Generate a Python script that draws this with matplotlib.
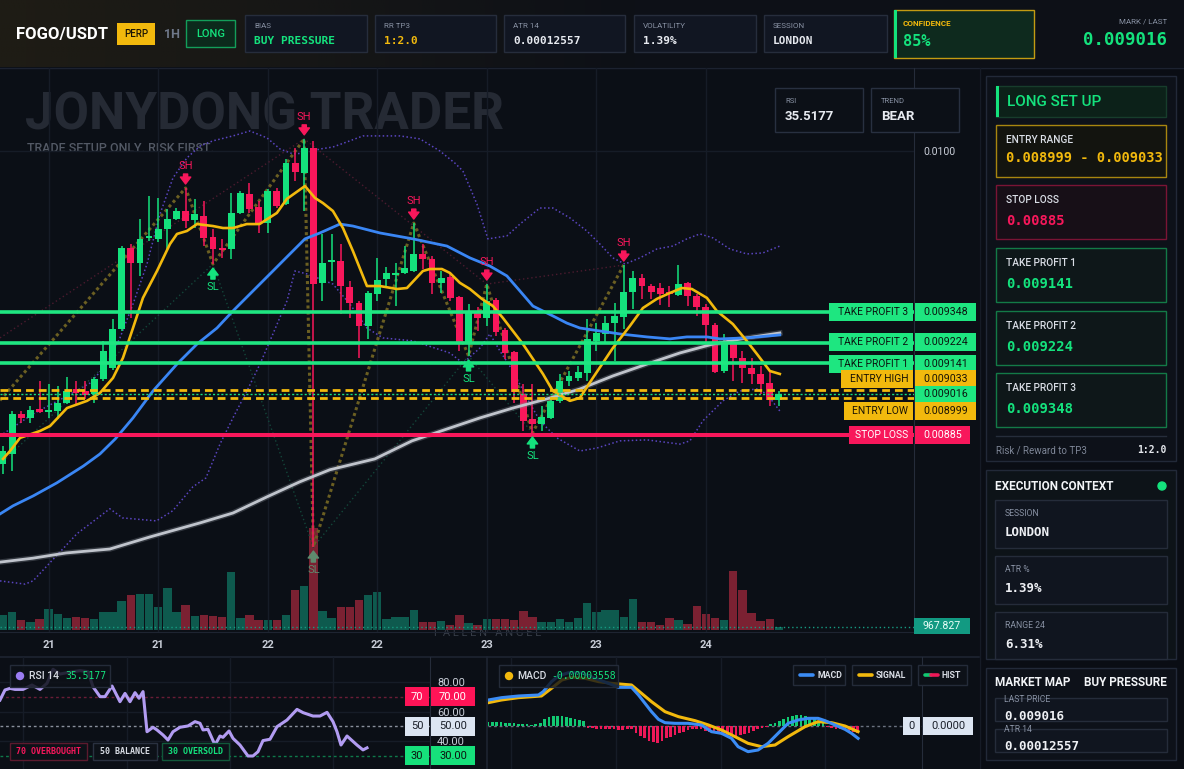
import numpy as np
import matplotlib
matplotlib.use("Agg")
import matplotlib.pyplot as plt
from matplotlib.patches import Rectangle, Circle
from matplotlib.colors import to_rgba, to_rgb

plt.rcParams['font.family'] = ['Roboto', 'DejaVu Sans']
MONO = 'DejaVu Sans Mono'

W, H = 1184, 769
PT = 0.72  # one pixel in points at dpi 100

# ---------------- data ----------------
# hourly candles, prices in 1e-6 USDT
opens = [8732, 8773, 8935, 8919, 8955, 8943, 8947, 8979, 9036, 9028,
         9016, 9077, 9121, 9279, 9607, 9546, 9648, 9644, 9684, 9725,
         9757, 9721, 9737, 9652, 9605, 9603, 9749, 9826, 9773, 9708,
         9838, 9785, 9951, 9911, 10012, 9466, 9550, 9555, 9449, 9385,
         9291, 9421, 9482, 9498, 9506, 9514, 9583, 9563, 9466, 9490,
         9409, 9218, 9344, 9324, 9397, 9275, 9186, 9016, 8915, 8894,
         8919, 8988, 9068, 9081, 9101, 9231, 9259, 9303, 9328, 9429,
         9486, 9453, 9445, 9425, 9417, 9466, 9413, 9368, 9295, 9109,
         9218, 9162, 9121, 9097, 9060, 8992]
highs = [8805, 8947, 8947, 8967, 9068, 9056, 9048, 9085, 9068, 9068,
         9085, 9231, 9320, 9615, 9623, 9725, 9818, 9810, 9765, 9769,
         9850, 9806, 9798, 9684, 9644, 9830, 9838, 9870, 9798, 9846,
         9850, 9968, 10012, 10049, 10040, 9664, 9664, 9623, 9474, 9393,
         9433, 9567, 9530, 9546, 9615, 9708, 9623, 9575, 9514, 9506,
         9413, 9380, 9368, 9461, 9405, 9283, 9190, 9056, 9056, 8967,
         9000, 9097, 9109, 9129, 9320, 9303, 9332, 9385, 9538, 9514,
         9502, 9461, 9466, 9453, 9538, 9470, 9421, 9380, 9303, 9259,
         9231, 9190, 9162, 9129, 9109, 9028]
lows = [8692, 8704, 8898, 8898, 8939, 8919, 8915, 8975, 8975, 8996,
        8979, 9070, 9115, 9271, 9324, 9494, 9636, 9632, 9603, 9721,
        9688, 9688, 9615, 9542, 9567, 9563, 9745, 9749, 9668, 9668,
        9769, 9780, 9878, 9757, 8396, 9393, 9474, 9340, 9324, 9162,
        9239, 9393, 9453, 9372, 9502, 9510, 9522, 9421, 9425, 9393,
        9190, 9170, 9271, 9291, 9251, 9158, 8979, 8866, 8858, 8866,
        8915, 8979, 9048, 9068, 9068, 9190, 9222, 9150, 9279, 9360,
        9401, 9401, 9376, 9368, 9413, 9372, 9332, 9210, 9101, 9101,
        9068, 9060, 9056, 9016, 8967, 8967]
closes = [8785, 8935, 8919, 8951, 8943, 8951, 8979, 9028, 9020, 9012,
          9077, 9190, 9279, 9607, 9546, 9644, 9652, 9684, 9725, 9757,
          9717, 9745, 9648, 9603, 9600, 9749, 9830, 9765, 9708, 9838,
          9777, 9951, 9915, 10012, 9461, 9546, 9559, 9453, 9385, 9291,
          9425, 9478, 9506, 9506, 9526, 9583, 9563, 9466, 9486, 9405,
          9222, 9352, 9324, 9393, 9267, 9182, 9024, 8907, 8894, 8923,
          8988, 9068, 9089, 9105, 9239, 9263, 9303, 9332, 9429, 9486,
          9453, 9429, 9421, 9421, 9461, 9413, 9368, 9295, 9105, 9222,
          9162, 9121, 9097, 9056, 8992, 9016]
volume = [5400, 6370, 3600, 2990, 3960, 7560, 5760, 4210, 4680, 4210,
          3960, 6480, 6480, 10440, 12600, 12960, 12960, 8280, 15120, 6480,
          9000, 5040, 5400, 5040, 4680, 20880, 4320, 5400, 3600, 3600,
          3600, 5400, 14400, 15840, 36720, 6840, 4320, 8280, 8280, 10800,
          12600, 13680, 3960, 4680, 4680, 7200, 2880, 2880, 3240, 1800,
          5400, 2520, 1800, 3960, 3960, 3960, 3600, 6840, 4680, 2880,
          2880, 3960, 2880, 4320, 9720, 6480, 7200, 7200, 4680, 11160,
          2880, 2880, 1800, 4320, 3600, 2160, 8640, 5760, 4320, 3600,
          21240, 14400, 6120, 3240, 3960, 967.827]

day_pos = [5, 17, 29, 41, 53, 65, 77]
day_labels = ['21', '21', '22', '22', '23', '23', '24']

# moving averages / bands (bar index, price 1e-6)
ema_fast_x = [0, 0.77, 1.86, 4.05, 5.15, 7.01, 9.2, 10.62, 12.05, 13.14, 14.24, 15.33, 16.87,
              18.29, 19.06, 20.15, 21.25, 23.0, 24.1, 25.2, 26.7, 28.1, 30.0, 31.1, 33.08,
              34.17, 35.05, 36.14, 37.24, 38.33, 39.87, 41.29, 43.16, 44.25, 46.0, 46.77,
              48.08, 48.96, 50.05, 51.15, 52.46, 53.67, 54.76, 55.86, 56.96, 58.05, 59.15,
              60.24, 62.1, 63.2, 64.62, 66.81, 68.67, 70.1, 71.63, 73.06, 74.37, 75.47,
              77.11, 78.2, 79.96, 81.49, 82.59, 84.01, 85.1]
ema_fast = [8753, 8785, 8838, 8866, 8886, 8959, 8988, 9020, 9081, 9162, 9283, 9405, 9514,
            9623, 9664, 9676, 9704, 9696, 9688, 9688, 9704, 9704, 9749, 9806, 9858,
            9810, 9789, 9757, 9688, 9595, 9453, 9453, 9441, 9445, 9514, 9522,
            9522, 9506, 9466, 9441, 9401, 9372, 9324, 9271, 9218, 9158, 9097,
            9028, 8988, 9000, 9081, 9202, 9291, 9364, 9401, 9425, 9445, 9441,
            9405, 9352, 9299, 9230, 9178, 9109, 9097]
ema_mid_x = [-0.33, 1.1, 3.3, 5.9, 8.8, 10.62, 12.3, 14.24, 16.43, 19.06, 21.25, 23.44,
             25.19, 27.38, 29.57, 31.43, 33.08, 34.72, 36.91, 38.33, 41.29, 44.9, 48.63,
             51.15, 53.34, 55.2, 56.63, 58.05, 60.24, 61.77, 63.2, 65.39, 67.58, 70.54,
             73.06, 74.92, 77.11, 78.53, 81.49, 85.1]
ema_mid = [8530, 8563, 8603, 8656, 8724, 8773, 8834, 8919, 9028, 9137, 9218, 9283,
           9352, 9433, 9514, 9583, 9644, 9668, 9704, 9696, 9668, 9644, 9615,
           9567, 9534, 9494, 9433, 9372, 9332, 9303, 9283, 9271, 9259, 9247,
           9239, 9247, 9247, 9239, 9243, 9255]
ema_slow_x = [-0.33, 3.3, 6.9, 11.7, 16.1, 21.6, 25.2, 28.9, 32.5, 35.8, 40.74, 44.8,
              48.63, 52.25, 55.86, 59.58, 63.2, 66.81, 70.54, 74.15, 77.77, 81.49, 85.1]
ema_slow = [8335, 8351, 8372, 8388, 8437, 8494, 8534, 8599, 8660, 8709, 8753, 8826,
            8874, 8919, 8959, 8996, 9036, 9089, 9137, 9182, 9218, 9243, 9263]
band_up_x = [-0.33, 3.29, 7.01, 9.53, 11.39, 12.81, 14.24, 15.77, 17.2, 18.62, 20.15, 21.58,
             23.0, 25.19, 27.05, 28.92, 30.34, 31.76, 33.3, 34.72, 36.14, 38.0, 39.43,
             43.48, 45.67, 47.86, 49.5, 50.38, 51.92, 53.12, 55.2, 56.63, 58.82, 60.24,
             62.1, 63.96, 65.39, 66.81, 68.13, 69.77, 71.63, 73.38, 74.92, 76.34, 77.77,
             79.63, 81.49, 83.24, 85.1]
band_up = [8846, 8935, 9008, 9060, 9137, 9243, 9380, 9542, 9745, 9891, 9972, 10020,
           10041, 10061, 10081, 10053, 10008, 9988, 9992, 10008, 10016, 10041, 10061,
           10061, 10049, 10000, 9951, 9919, 9785, 9644, 9656, 9704, 9769, 9769,
           9729, 9676, 9623, 9567, 9542, 9567, 9603, 9615, 9644, 9664, 9648,
           9603, 9583, 9587, 9615]
band_lo_x = [-0.33, 2.41, 3.29, 8.1, 11.7, 13.1, 16.8, 18.6, 20.8, 22.23, 23.77, 25.19, 26.72,
             28.15, 29.57, 31.11, 31.98, 33.3, 34.72, 36.14, 38.0, 39.87, 41.62, 44.9,
             48.96, 50.38, 52.25, 53.34, 54.44, 55.86, 57.39, 58.82, 60.68, 63.2, 65.06,
             67.58, 70.54, 74.15, 75.25, 76.67, 78.86, 80.72, 82.59, 83.68, 85.1]
band_lo = [8259, 8246, 8259, 8450, 8551, 8514, 8502, 8543, 8640, 8676, 8813, 8919, 9028,
           9137, 9259, 9393, 9514, 9502, 9482, 9461, 9380, 9283, 9243, 9231,
           9182, 9141, 9202, 9259, 9190, 9109, 9000, 8907, 8838, 8785, 8797,
           8826, 8830, 8813, 8826, 8907, 8988, 9028, 9036, 9016, 8947]

swing_highs = [20, 33, 45, 53, 68]
swing_lows = [23, 34, 51, 58]
zigzag_start = (-0.33, 8990)
zigzag_order = [20, 23, 33, 34, 45, 51, 53, 58, 68]
high_trend_start = (-0.33, 9243)
low_trend_start = (-0.33, 8732)

tp_levels = [0.009348, 0.009224, 0.009141]
entry_high = 0.009033
entry_low = 0.008999
stop_loss = 0.00885
last_price = 0.009016

# RSI (bar index, value)
rsi_x = [0, 1.16, 2.33, 3.49, 5.35, 7.44, 9.3, 10.93, 12.33, 13.95, 15.58, 18.6, 20.47,
         21.63, 23.26, 24.42, 26.05, 27.9, 29.07, 30.23, 31.4, 32.33, 33.26, 34.19,
         35.58, 36.51, 37.91, 39.07, 40.23, 41.86, 43.72, 45.35, 46.51, 47.21, 48.37,
         50.0, 51.16, 51.86, 53.26, 54.19, 55.81, 57.67, 58.84, 60.0, 61.16, 62.79,
         64.42, 66.74, 69.07, 70.47, 72.79, 74.42, 76.05, 77.44, 78.37, 79.3, 80.7,
         83.02, 84.42, 85.35]
rsi_vals = [67.8, 74.6, 75.7, 75.0, 75.0, 78.0, 75.0, 79.1, 88.6, 85.4, 86.3, 87.7, 87.0,
            76.8, 70.1, 70.1, 77.3, 66.7, 72.3, 66.7, 72.8, 69.0, 73.5, 46.4,
            49.4, 47.6, 44.2, 40.8, 46.4, 49.4, 50.3, 53.2, 52.1, 47.6, 48.0,
            37.4, 43.5, 42.6, 46.9, 41.9, 37.4, 30.0, 30.0, 32.9, 40.4, 41.3,
            49.8, 54.3, 61.5, 59.3, 57.0, 57.0, 59.5, 53.2, 46.4, 37.4, 43.5,
            37.4, 34.1, 35.5]

# MACD in 1e-6
macd_x = [0.08, 3.1, 7.0, 11.6, 12.7, 14.6, 16.2, 18.5, 21.5, 24.6, 27.7, 30.0, 33.0,
          34.6, 36.1, 37.6, 39.2, 40.7, 43.0, 46.0, 49.1, 51.4, 53.7, 56.0, 57.5, 59.8,
          62.1, 64.4, 66.7, 69.0, 71.3, 73.6, 75.9, 77.5, 79.8, 82.1, 83.6, 85.1]
macd_vals = [74.9, 81.6, 86.4, 89.3, 98.9, 127.7, 144.0, 153.6, 153.6, 137.3, 122.9, 111.4,
             111.4, 89.3, 65.3, 41.3, 19.2, 9.6, 7.7, 7.7, 2.9, -16.3, -21.1, -35.5, -59.5,
             -73.9, -69.1, -49.9, -21.1, 7.7, 17.3, 22.1, 22.1, 15.4, 2.9, -9.6, -21.1, -35.6]
signal_x = [0.08, 3.1, 7.0, 12.3, 14.6, 17.0, 19.2, 22.3, 25.4, 28.4, 33.0, 35.3, 37.6,
            40.7, 43.8, 47.6, 50.7, 53.7, 56.8, 59.8, 62.9, 66.0, 69.0, 72.9, 75.9, 79.0,
            82.1, 85.1]
signal_vals = [67.2, 74.9, 81.6, 86.4, 108.5, 132.5, 140.2, 137.3, 127.7, 122.9, 118.1, 94.1,
               70.1, 41.3, 26.9, 15.4, 2.9, -11.5, -30.7, -49.9, -59.5, -54.7, -30.7, -1.9,
               12.5, 9.6, 0.0, -16.3]
hist_vals = [12.5, 12.5, 12.5, 12.5, 9.6, 7.7, 7.7, 5.8, 5.8, 5.8, 3.8, 5.8, 9.6,
             19.2, 26.9, 28.8, 28.8, 28.8, 26.9, 24.0, 21.1, 17.3, 13.4,
             -4.8,
             -5.8, -7.7, -7.7, -8.6, -9.6, -9.6, -11.5, -11.5, -9.6, -7.7,
             -21.1, -28.8, -35.5, -42.2, -45.1, -48.0, -42.2, -35.5, -30.7, -25.9, -21.1,
             -16.3, -11.5, -9.6, -7.7,
             -9.6, -14.4, -17.3, -19.2, -23.0, -25.0, -26.9, -28.8, -28.8, -26.9, -24.0,
             -19.2, -14.4, -9.6, -6.7, -3.8,
             5.8, 9.6, 15.4, 21.1, 25.0, 28.8, 30.7, 30.7, 28.8, 25.0, 19.2, 13.4, 7.7,
             -3.8, -5.8, -7.7, -9.6, -11.5, -13.4, -16.3, -19.2]

top_stats = [('BIAS', 'BUY PRESSURE'), ('RR TP3', '1:2.0'), ('ATR 14', '0.00012557'),
             ('VOLATILITY', '1.39%'), ('SESSION', 'LONDON')]
setup_cards = [('TAKE PROFIT 1', '0.009141'), ('TAKE PROFIT 2', '0.009224'),
               ('TAKE PROFIT 3', '0.009348')]
context_cards = [('SESSION', 'LONDON'), ('ATR %', '1.39%'), ('RANGE 24', '6.31%')]

# ---------------- style ----------------
PAGE = '#0a0d14'
CHART = '#0b0f16'
GREEN = '#14e27d'
RED = '#f8175b'
YELLOW = '#f2b90d'
BLUE = '#3a86f4'
TEXT = '#e7eaf0'
MUTED = '#8891a3'
DARK = '#0b140f'

fig = plt.figure(figsize=(W / 100, H / 100), dpi=100, facecolor=PAGE)


def px_axes(x0, y0, x1, y1, z):
    return fig.add_axes([x0 / W, 1 - y1 / H, (x1 - x0) / W, (y1 - y0) / H], zorder=z)


def overlay(z):
    a = fig.add_axes([0, 0, 1, 1], zorder=z)
    a.set_xlim(0, W)
    a.set_ylim(H, 0)
    a.axis('off')
    a.patch.set_visible(False)
    return a


def rect(a, x0, y0, x1, y1, fc='none', ec='none', lw=1.0, falpha=1.0, z=1):
    face = 'none' if fc == 'none' else to_rgba(fc, falpha)
    a.add_patch(Rectangle((x0, y0), x1 - x0, y1 - y0, facecolor=face,
                          edgecolor=ec, linewidth=lw, zorder=z))


def txt(a, x, y, s, size, color, weight='normal', ha='left', mono=False, z=3, **kw):
    if mono:
        kw['family'] = MONO
    a.text(x, y, s, fontsize=size, color=color, fontweight=weight, ha=ha,
           va='center', zorder=z, **kw)


def to_px(axis, x, y):
    dx, dy = axis.transData.transform((x, y))
    return dx, H - dy


bg = overlay(0)
ui = overlay(10)

# page backgrounds
rect(bg, 0, 0, W, 67, fc='#0d1017')
grad = np.zeros((1, 256, 4))
grad[..., :3] = to_rgb('#2b2514')
grad[..., 3] = np.linspace(0.6, 0.0, 256)
bg.imshow(grad, extent=(0, 640, 67, 0), aspect='auto', zorder=1, interpolation='bilinear')
bg.plot([0, W], [67.5, 67.5], color='#1c2230', lw=1, zorder=2)
rect(bg, 0, 68, 979, H, fc=CHART)
bg.plot([0, 979], [656.5, 656.5], color='#1e2431', lw=1.2, zorder=2)
bg.plot([979.5, 979.5], [68, H], color='#161b26', lw=1, zorder=2)
bg.plot([486.5, 486.5], [657, H], color='#1e2431', lw=1.2, zorder=2)
bg.set_xlim(0, W)
bg.set_ylim(H, 0)

# watermarks
txt(bg, 25, 116, 'JONYDONG TRADER', 37, '#252a34', weight='bold', z=2)
txt(bg, 27, 149, 'TRADE SETUP ONLY. RISK FIRST.', 9, '#535965', weight='medium', z=2)
txt(bg, 488, 633, 'F A L L E N   A N G E L', 8, '#363c47', ha='center', z=2)

# ---------------- main price chart ----------------
idx = np.arange(len(opens))
o = np.array(opens) * 1e-6
h = np.array(highs) * 1e-6
l = np.array(lows) * 1e-6
c = np.array(closes) * 1e-6
up = c >= o
col = np.where(up, GREEN, RED)

ax = px_axes(0, 68, 914, 632, 2)
vax = ax.twinx()
vax.set_zorder(1)
ax.set_zorder(2)
ax.patch.set_visible(False)
vax.patch.set_visible(False)

ax.set_xlim(-0.33, 99.8)
ax.set_ylim(0.008052, 0.010336)
vax.set_ylim(-720, 564 * 360 - 720)

vol_col = np.where(up, '#0e5a4e', '#7b2132')
vax.bar(idx, volume, width=0.92, color=vol_col, linewidth=0, zorder=1)
vax.axhline(volume[-1], color='#169b82', lw=1, ls=(0, (1, 2)), zorder=2)
vax.set_yticks([])
for s in vax.spines.values():
    s.set_visible(False)

# bands, zigzag, trend lines
ax.plot(band_up_x, np.array(band_up) * 1e-6, color='#5a45c0', lw=1.1, ls=(0, (1, 1.6)), zorder=2)
ax.plot(band_lo_x, np.array(band_lo) * 1e-6, color='#5a45c0', lw=1.1, ls=(0, (1, 1.6)), zorder=2)


def swing_price(i):
    return h[i] if i in swing_highs else l[i]


zz_x = [zigzag_start[0]] + zigzag_order
zz_y = [zigzag_start[1] * 1e-6] + [swing_price(i) for i in zigzag_order]
ax.plot(zz_x, zz_y, color='#6b5f22', lw=2.2, ls=(0, (1, 1)), zorder=2.5)

ht_x = [high_trend_start[0]] + [33, 53, 68]
ht_y = [high_trend_start[1] * 1e-6] + [h[i] for i in [33, 53, 68]]
ax.plot(ht_x, ht_y, color='#4c1b2f', lw=1, ls=(0, (1, 2)), zorder=2)
lt_x = [low_trend_start[0]] + swing_lows
lt_y = [low_trend_start[1] * 1e-6] + [l[i] for i in swing_lows]
ax.plot(lt_x, lt_y, color='#13463a', lw=1, ls=(0, (1, 2)), zorder=2)

# candles
ax.vlines(idx, l, h, colors=col, lw=1.1, zorder=3)
body = np.abs(c - o)
min_body = 8e-6
bottom = np.where(body < min_body, (o + c) / 2 - min_body / 2, np.minimum(o, c))
ax.bar(idx, np.maximum(body, min_body), bottom=bottom, width=0.75, color=col,
       linewidth=0, zorder=4)

# moving averages
ax.plot(ema_slow_x, np.array(ema_slow) * 1e-6, color='#7d828c', lw=4, alpha=0.35, zorder=4.5)
ax.plot(ema_slow_x, np.array(ema_slow) * 1e-6, color='#c0c4cc', lw=2.0, zorder=5)
ax.plot(ema_mid_x, np.array(ema_mid) * 1e-6, color=BLUE, lw=2.0, zorder=5)
ax.plot(ema_fast_x, np.array(ema_fast) * 1e-6, color=YELLOW, lw=1.9, zorder=5.5)

# levels
for lv in tp_levels:
    ax.axhline(lv, color='#1fe681', lw=2.6, zorder=6)
ax.axhline(entry_high, color=YELLOW, lw=2.0, ls=(0, (2.8, 1.8)), zorder=6)
ax.axhline(entry_low, color=YELLOW, lw=2.0, ls=(0, (2.8, 1.8)), zorder=6)
ax.axhline(last_price, color='#19e07f', lw=1.0, ls=(0, (1.5, 1.5)), zorder=6)
ax.axhline(stop_loss, color=RED, lw=2.9, zorder=6)

# swing markers
arrow_style = 'simple,head_width=0.75,head_length=0.5,tail_width=0.3'
for i in swing_highs:
    ax.annotate('', xy=(i, h[i]), xytext=(0, 14 * PT), textcoords='offset points',
                arrowprops=dict(arrowstyle=arrow_style, color=RED, shrinkA=0,
                                shrinkB=4 * PT, mutation_scale=10), zorder=8)
    ax.annotate('SH', xy=(i, h[i]), xytext=(0, 22 * PT), textcoords='offset points',
                ha='center', va='center', fontsize=8, color=RED, zorder=8)
for i in swing_lows:
    a_col = '#14e27d' if i != 34 else '#5f8a6e'
    ax.annotate('', xy=(i, l[i]), xytext=(0, -15 * PT), textcoords='offset points',
                arrowprops=dict(arrowstyle=arrow_style, color=a_col, shrinkA=0,
                                shrinkB=4 * PT, mutation_scale=10), zorder=8)
    ax.annotate('SL', xy=(i, l[i]), xytext=(0, -23 * PT), textcoords='offset points',
                ha='center', va='center', fontsize=8, color=a_col, zorder=8)

ax.set_xticks(day_pos)
ax.set_xticklabels(day_labels)
ax.tick_params(axis='x', length=0, pad=6, labelsize=8, labelcolor='#c9ced8')
for lb in ax.get_xticklabels():
    lb.set_fontweight('bold')
ax.yaxis.tick_right()
ax.set_yticks([0.0100])
ax.set_yticklabels(['0.0100'])
ax.tick_params(axis='y', length=0, pad=7, labelsize=7.6, labelcolor='#c9ced8')
ax.grid(True, color='#161c27', lw=1)
ax.set_axisbelow(True)
for side in ['top', 'left']:
    ax.spines[side].set_visible(False)
ax.spines['right'].set_color('#252c3a')
ax.spines['bottom'].set_color('#1e2431')

# right-hand level labels
level_labels = [
    ('TAKE PROFIT 3', tp_levels[0], 829, 0, '#1ee680', DARK, 976),
    ('TAKE PROFIT 2', tp_levels[1], 829, -1, '#1ee680', DARK, 976),
    ('TAKE PROFIT 1', tp_levels[2], 829, 1, '#1ee680', DARK, 976),
    ('ENTRY HIGH', entry_high, 841, -11, YELLOW, '#1a1405', 976),
    ('', last_price, 915, 0, '#1ee680', DARK, 976),
    ('ENTRY LOW', entry_low, 844, 13, YELLOW, '#1a1405', 976),
    ('STOP LOSS', stop_loss, 849, 0, RED, '#ffffff', 970),
]
for name, price, x0, dy, fc, tc, x1 in level_labels:
    _, py = to_px(ax, 0, price)
    py += dy
    half = 9 if name else 8
    if name:
        rect(ui, x0, py - half, 912.5, py + half, fc=fc, z=4)
        txt(ui, 908, py, name, 7.4, tc, ha='right', z=5)
    rect(ui, 915, py - half, x1, py + half, fc=fc, z=4)
    label = f'{price:.6f}'.rstrip('0') if price == stop_loss else f'{price:.6f}'
    txt(ui, (915 + x1) / 2, py, label, 7.7, tc, ha='center', z=5)

# volume value tag
_, vpy = to_px(vax, 0, volume[-1])
rect(ui, 914, vpy - 9, 970, vpy + 7, fc='#129a82', z=4)
txt(ui, 942, vpy - 1, f'{volume[-1]:.3f}', 7.6, '#e9fff8', ha='center', z=5)

# RSI / trend boxes
for x0, lab, val in [(775, 'RSI', '35.5177'), (871, 'TREND', 'BEAR')]:
    rect(ui, x0, 88, x0 + 88, 132, fc='#0c1017', ec='#283040', lw=1, z=4)
    txt(ui, x0 + 10, 101, lab, 5.5, MUTED, z=5)
    txt(ui, x0 + 10, 117, val, 9.5, TEXT, weight='bold', z=5)

# ---------------- RSI panel ----------------
sub_grid = [5.4, 29.5, 53.5, 77.4]
rax = px_axes(0, 657, 430, 769, 2)
rax.patch.set_visible(False)
rax.set_xlim(0, 100)
rax.set_ylim(21.2, 96.9)
for gx in sub_grid:
    rax.axvline(gx, color='#161c27', lw=1, zorder=0)
for gy in [80, 60, 40]:
    rax.axhline(gy, color='#161c27', lw=1, zorder=0)
rax.axhline(70, color='#6a1d36', lw=1, ls=(0, (2, 2)), zorder=1)
rax.axhline(50, color='#8a909c', lw=1, ls=(0, (2, 2)), zorder=1)
rax.axhline(30, color='#0f7a4a', lw=1, ls=(0, (2, 2)), zorder=1)
rax.plot(rsi_x, rsi_vals, color='#b29cf2', lw=2.2, zorder=3)
rax.yaxis.tick_right()
rax.set_yticks([40, 60, 80])
rax.set_yticklabels(['40.00', '60.00', '80.00'])
rax.tick_params(axis='y', length=0, pad=5, labelsize=8, labelcolor='#c9ced8')
rax.set_xticks([])
for side in ['top', 'left', 'bottom']:
    rax.spines[side].set_visible(False)
rax.spines['right'].set_color('#252c3a')

for val, fc, tc in [(70, '#ff1457', '#ffffff'), (50, '#dce5f2', '#1a1f29'), (30, '#16e07b', DARK)]:
    _, py = to_px(rax, 0, val)
    rect(ui, 405, py - 9.5, 429, py + 9.5, fc=fc, z=4)
    rect(ui, 431, py - 9.5, 475, py + 9.5, fc=fc, z=4)
    txt(ui, 417, py, str(val), 8, tc, ha='center', z=5)
    txt(ui, 453, py, f'{val:.2f}', 8, tc, ha='center', z=5)

rect(ui, 10, 665, 110, 687, fc='#0d1118', ec='#242b39', falpha=0.85, z=4)
ui.add_patch(Circle((20, 676), 3.5, color='#9b7cf2', zorder=5))
txt(ui, 29, 676, 'RSI 14', 7.5, '#d8dce4', weight='medium', z=5)
txt(ui, 65, 676, '35.5177', 7, GREEN, mono=True, z=5)
for x0, x1, s, ec, tc in [(10, 87, '70 OVERBOUGHT', '#5c1a2e', RED),
                          (93, 157, '50 BALANCE', '#2a3140', '#d8dce4'),
                          (162, 229, '30 OVERSOLD', '#11583a', GREEN)]:
    rect(ui, x0, 743, x1, 760, fc='#0d1118', ec=ec, z=4)
    txt(ui, (x0 + x1) / 2, 751.5, s, 6.0, tc, weight='bold', ha='center', mono=True, z=5)

# ---------------- MACD panel ----------------
max_ = px_axes(488, 657, 922, 769, 2)
max_.patch.set_visible(False)
max_.set_xlim(0, 99.8)
max_.set_ylim(-123.8e-6, 198.7e-6)
for gx in sub_grid:
    max_.axvline(gx, color='#161c27', lw=1, zorder=0)
max_.axhline(0, color='#6b7280', lw=1, ls=(0, (2, 2)), zorder=1)
hv = np.array(hist_vals) * 1e-6
max_.bar(idx, hv, width=0.62, color=np.where(hv >= 0, '#12c972', '#ee1858'),
         linewidth=0, zorder=2)
max_.plot(signal_x, np.array(signal_vals) * 1e-6, color=YELLOW, lw=2.2, zorder=3)
max_.plot(macd_x, np.array(macd_vals) * 1e-6, color='#3b8cf5', lw=2.2, zorder=3.5)
max_.set_xticks([])
max_.set_yticks([])
for side in ['top', 'left', 'bottom']:
    max_.spines[side].set_visible(False)
max_.spines['right'].set_color('#252c3a')

rect(ui, 499, 665, 618, 687, fc='#0d1118', ec='#242b39', falpha=0.8, z=4)
ui.add_patch(Circle((509, 676), 3.5, color=YELLOW, zorder=5))
txt(ui, 517, 676, 'MACD', 7.5, '#d8dce4', weight='medium', z=5)
txt(ui, 551, 676, '-0.00003558', 7, GREEN, mono=True, z=5)
for x0, x1, s, lc in [(793, 845, 'MACD', '#3b8cf5'), (852, 911, 'SIGNAL', YELLOW),
                      (918, 967, 'HIST', None)]:
    rect(ui, x0, 665, x1, 685, fc='#0d1118', ec='#242b39', z=4)
    if lc:
        ui.plot([x0 + 7, x0 + 20], [675, 675], color=lc, lw=2.6, solid_capstyle='round', zorder=5)
    else:
        ui.plot([x0 + 7, x0 + 13], [675, 675], color='#12c972', lw=2.6, solid_capstyle='round', zorder=5)
        ui.plot([x0 + 13, x0 + 20], [675, 675], color='#ee1858', lw=2.6, solid_capstyle='round', zorder=5)
    txt(ui, x0 + 24, 675, s, 6.3, '#d8dce4', weight='bold', z=5)
_, zpy = to_px(max_, 0, 0)
rect(ui, 903, zpy - 9, 920, zpy + 9, fc='#dce5f2', z=4)
rect(ui, 923, zpy - 9, 973, zpy + 9, fc='#dce5f2', z=4)
txt(ui, 911.5, zpy, '0', 8, '#1a1f29', ha='center', z=5)
txt(ui, 948, zpy, '0.0000', 8, '#1a1f29', ha='center', z=5)

# ---------------- top bar ----------------
txt(ui, 16, 34, 'FOGO/USDT', 12, '#ffffff', weight='bold')
rect(ui, 117, 23, 155, 45, fc=YELLOW, z=2)
txt(ui, 136, 34, 'PERP', 7, '#1a1405', weight='medium', ha='center')
txt(ui, 164, 34, '1H', 9, '#6f7889', weight='bold')
rect(ui, 186, 20, 235, 47, fc='#0c2a1c', ec='#139e5a', z=2)
txt(ui, 210.5, 34, 'LONG', 8, GREEN, weight='medium', ha='center')
stat_x = [(245, 367), (375, 496), (504, 625), (634, 756), (764, 887)]
stat_col = [GREEN, YELLOW, TEXT, TEXT, TEXT]
for (x0, x1), (lab, val), vc in zip(stat_x, top_stats, stat_col):
    rect(ui, x0, 15, x1, 52, fc='#111622', ec='#262d3c', z=2)
    txt(ui, x0 + 9, 26, lab, 5.8, MUTED)
    txt(ui, x0 + 9, 41, val, 8, vc, weight='bold', mono=True)
rect(ui, 894, 10, 1034, 58, fc='#0e2a1e', ec='#c39b12', z=2)
rect(ui, 894, 10, 897, 58, fc=GREEN, z=2.5)
txt(ui, 903, 23, 'CONFIDENCE', 5.8, YELLOW, weight='bold')
txt(ui, 903, 41, '85%', 11, GREEN, weight='bold', mono=True)
txt(ui, 1167, 22, 'MARK / LAST', 5.8, MUTED, ha='right')
txt(ui, 1167, 40, '0.009016', 12.5, GREEN, weight='bold', mono=True, ha='right')

# ---------------- right panel ----------------
rect(ui, 986, 76, 1176, 461, fc='#0d1119', ec='#222938', z=1)
rect(ui, 996, 86, 1166, 117, fc='#0c2119', ec='#173d2c', z=2)
rect(ui, 996, 86, 999, 117, fc=GREEN, z=2.5)
txt(ui, 1007, 101.5, 'LONG SET UP', 11, GREEN, weight='medium')
rect(ui, 996, 125, 1166, 177, fc='#13140f', ec='#a8860f', z=2)
txt(ui, 1006, 140, 'ENTRY RANGE', 7.3, '#d9dde5', weight='medium')
txt(ui, 1006, 158, f'{entry_low:.6f} - {entry_high:.6f}', 9.8, YELLOW, weight='bold', mono=True)
rect(ui, 996, 185, 1166, 239, fc='#170f17', ec='#7a1435', z=2)
txt(ui, 1006, 200, 'STOP LOSS', 7.3, '#d9dde5', weight='medium')
txt(ui, 1006, 221, '0.00885', 10, RED, weight='bold', mono=True)
for (lab, val), y0 in zip(setup_cards, [248, 311, 373]):
    rect(ui, 996, y0, 1166, y0 + 54, fc='#0e1719', ec='#137a47', z=2)
    txt(ui, 1006, y0 + 15, lab, 7.3, '#d9dde5', weight='medium')
    txt(ui, 1006, y0 + 36, val, 10, GREEN, weight='bold', mono=True)
ui.plot([996, 1166], [436, 436], color='#262d3b', lw=1, zorder=2)
txt(ui, 996, 450, 'Risk / Reward to TP3', 7, '#7d8596')
txt(ui, 1166, 450, '1:2.0', 7, '#e6e9ee', weight='bold', mono=True, ha='right')

rect(ui, 986, 470, 1176, 659, fc='#0d1318', ec='#222938', z=1)
txt(ui, 995, 486, 'EXECUTION CONTEXT', 8.5, '#f2f4f7', weight='bold')
ui.add_patch(Circle((1162, 486), 4, color=GREEN, zorder=3))
for (lab, val), y0 in zip(context_cards, [500, 556, 612]):
    y1 = min(y0 + 48, 659)
    rect(ui, 995, y0, 1167, y1, fc='#10151f', ec='#252c3a', z=2)
    txt(ui, 1005, y0 + 13, lab, 6.2, MUTED)
    txt(ui, 1005, y0 + 33, val, 9, '#eef0f4', weight='bold', mono=True)

rect(ui, 986, 668, 1176, 760, fc='#0d1119', ec='#222938', z=1)
txt(ui, 995, 683, 'MARKET MAP', 8.5, '#f2f4f7', weight='bold')
txt(ui, 1167, 683, 'BUY PRESSURE', 8.5, '#f2f4f7', weight='bold', ha='right')
for lab, val, y0 in [('LAST PRICE', '0.009016', 698), ('ATR 14', '0.00012557', 729)]:
    rect(ui, 995, y0, 1167, y0 + 23, fc='#10151f', ec='#252c3a', z=2)
    txt(ui, 1004, y0 + 1, lab, 6.2, MUTED)
    txt(ui, 1004, y0 + 18, val, 9, '#eef0f4', weight='bold', mono=True)

fig.savefig('out.png', dpi=100, facecolor=PAGE)
